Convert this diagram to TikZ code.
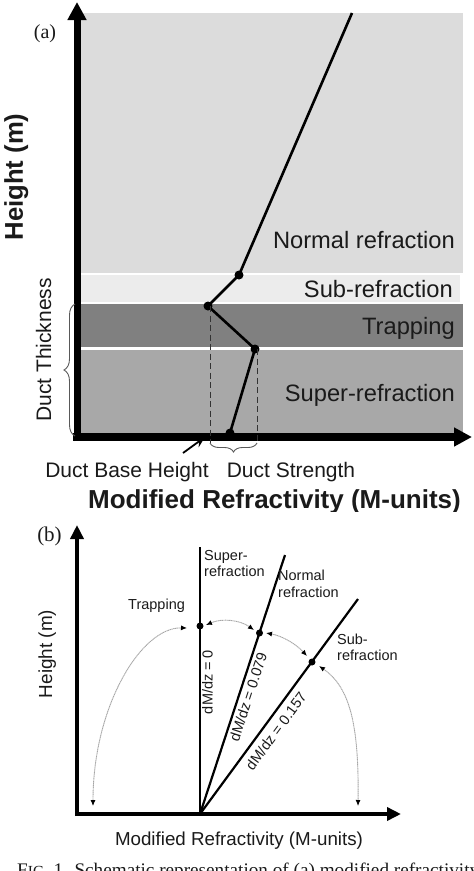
\documentclass[tikz,border=0pt]{standalone}
\usepackage{fontspec}
\setmainfont{Liberation Sans}
\newfontfamily\seriffont{Liberation Serif}
\usetikzlibrary{arrows.meta,decorations.pathreplacing}
\definecolor{cnormal}{HTML}{DCDCDC}
\definecolor{csub}{HTML}{ECECEC}
\definecolor{ctrap}{HTML}{808080}
\definecolor{csuper}{HTML}{A8A8A8}
\definecolor{ink}{HTML}{1A1A1A}
\begin{document}
\begin{tikzpicture}[x=1pt,y=-1pt,
  lbl/.style={inner sep=0pt, text=ink, font=\fontsize{23.7}{28}\selectfont},
  lblsm/.style={inner sep=0pt, text=ink, font=\fontsize{21}{25}\selectfont},
  lblb/.style={inner sep=0pt, text=ink, font=\fontsize{14.5}{16.7}\selectfont, align=left},
  dota/.style={circle, fill=black, inner sep=0pt, minimum size=9pt},
  dotb/.style={circle, fill=black, inner sep=0pt, minimum size=7pt},
  prof/.style={line width=2.6pt, line join=round},
  ray/.style={line width=2.2pt},
  dashv/.style={draw=black!80, line width=1pt, dash pattern=on 6pt off 3.5pt},
  bracest/.style={decorate, draw=black!65, line width=0.9pt},
  arcb/.style={draw=gray!70, line width=0.9pt, dash pattern=on 1.3pt off 0.5pt,
     {Latex[length=6pt,width=5pt,color=black]}-{Latex[length=6pt,width=5pt,color=black]}}
]
\useasboundingbox (0,0) rectangle (474,871);

% ---------------- panel (a) ----------------
\fill[cnormal] (80,13) rectangle (463,273);
\fill[csub] (80,275) rectangle (460,302);
\fill[ctrap] (80,304) rectangle (463,347);
\fill[csuper] (80,350) rectangle (463,437);

\coordinate (ya0) at (77,441);
\coordinate (ya) at (77,2);
\coordinate (xa0) at (73,437);
\coordinate (xa) at (472,437);
\draw[line width=7pt, -{Triangle[length=18pt,width=18pt]}] (ya0) -- (ya);
\draw[line width=8pt, -{Triangle[length=18pt,width=18pt]}] (xa0) -- (xa);

\coordinate (p0) at (352,13);
\node[dota] (p1) at (239,275) {};
\node[dota] (p2) at (208,306) {};
\node[dota] (p3) at (255,349) {};
\node[dota] (p4) at (230,433) {};
\draw[prof] (p0) -- (p1.center) -- (p2.center) -- (p3.center) -- (p4.center);

\coordinate (d2t) at (210,306);
\coordinate (d2) at (210,443);
\coordinate (d3t) at (257,349);
\coordinate (d3) at (257,443);
\draw[dashv] (d2t) -- (d2);
\draw[dashv] (d3t) -- (d3);
\draw[bracest, decoration={brace, amplitude=9pt}] (d3) -- (d2);

\coordinate (bt0) at (75,436);
\coordinate (bt1) at (75,304);
\draw[bracest, decoration={brace, amplitude=11pt}] (bt0) -- (bt1);

\node[lbl, anchor=base east] (tnorm) at (455,248) {Normal refraction};
\node[lbl, anchor=base east] (tsub) at (453,297) {Sub-refraction};
\node[lbl, anchor=base east] (ttrap) at (455,334) {Trapping};
\node[lbl, anchor=base east] (tsup) at (455,401) {Super-refraction};

\node[lblsm, anchor=base] (tdbh) at (127,477) {Duct Base Height};
\node[lblsm, anchor=base] (tds) at (291,477) {Duct Strength};
\coordinate (dbhtip) at (205,437);
\coordinate (dbhtail) at (183,453);
\draw[line width=1.8pt, -{Stealth[length=11pt,width=9pt]}] (dbhtail) -- (dbhtip);

\node[lblsm, rotate=90, anchor=base] (tdt) at (51,350) {Duct Thickness};
\node[inner sep=0pt, text=ink, rotate=90, anchor=base, font=\fontsize{25.7}{30}\selectfont\bfseries] (tha) at (23,177) {Height (m)};

\begin{scope}
\clip (0,0) rectangle (474,511.5);
\node[inner sep=0pt, text=ink, anchor=base, font=\fontsize{26}{30}\selectfont\bfseries] (txa) at (274.5,508) {Modified Refractivity (M-units)};
\end{scope}

\node[inner sep=0pt, text=ink, anchor=base, font=\seriffont\fontsize{20}{24}\selectfont] (la) at (45,38) {(a)};

% ---------------- panel (b) ----------------
\node[inner sep=0pt, text=ink, anchor=base, font=\seriffont\fontsize{21}{24}\selectfont] (lb) at (49.5,541.5) {(b)};

\coordinate (ob) at (200,814);
\coordinate (yb0) at (77,816);
\coordinate (yb) at (77,525);
\coordinate (xb0) at (75,814);
\coordinate (xb) at (401,814);
\draw[line width=3.8pt, -{Triangle[length=14pt,width=13pt]}] (yb0) -- (yb);
\draw[line width=3.8pt, -{Triangle[length=14pt,width=13pt]}] (xb0) -- (xb);

\coordinate (r1) at (200,547);
\coordinate (r2) at (285,555);
\coordinate (r3) at (358,599);
\draw[ray] (ob) -- (r1);
\draw[ray] (ob) -- (r2);
\draw[ray] (ob) -- (r3);

\node[dotb] (q1) at (200,626) {};
\node[dotb] (q2) at (259.5,633) {};
\node[dotb] (q3) at (312,662) {};

\coordinate (a1s) at (93,806);
\coordinate (a1e) at (187,628);
\draw[arcb] (a1s) .. controls (93,707) and (141,627) .. (a1e);
\coordinate (a2s) at (206,625);
\coordinate (a2e) at (254,630);
\draw[arcb] (a2s) .. controls (222,618) and (240,620) .. (a2e);
\coordinate (a3s) at (266,633);
\coordinate (a3e) at (307,656);
\draw[arcb] (a3s) .. controls (283,636) and (297,645) .. (a3e);
\coordinate (a4s) at (319,666);
\coordinate (a4e) at (358,806);
\draw[arcb] (a4s) .. controls (351,688) and (359,728) .. (a4e);

\node[lblb, anchor=base west] (tsupb) at (204,576.7) {Super-\\refraction};
\node[lblb, anchor=base west] (tnormb) at (278,597.3) {Normal\\refraction};
\node[lblb, anchor=base west] (ttrapb) at (128,609.3) {Trapping};
\node[lblb, anchor=base west] (tsubb) at (337,660.7) {Sub-\\refraction};

\node[lblb, rotate=90] (g0) at (207.5,682) {dM/dz = 0};
\node[lblb, rotate=71.8] (g1) at (248,697) {dM/dz = 0.079};
\node[lblb, rotate=53.7] (g2) at (276,731) {dM/dz = 0.157};

\node[inner sep=0pt, text=ink, rotate=90, anchor=base, font=\fontsize{18.9}{22}\selectfont] (thb) at (52,654) {Height (m)};
\node[inner sep=0pt, text=ink, anchor=base, font=\fontsize{18.75}{22}\selectfont] (txb) at (239,845) {Modified Refractivity (M-units)};

% caption (cut off by the page edge)
\node[inner sep=0pt, text=ink, anchor=base west, font=\seriffont\fontsize{19.2}{22}\selectfont] (cap) at (17,876) {F{\fontsize{15.4}{18}\selectfont IG}. 1. Schematic representation of (a) modified refractivity};
\end{tikzpicture}
\end{document}
